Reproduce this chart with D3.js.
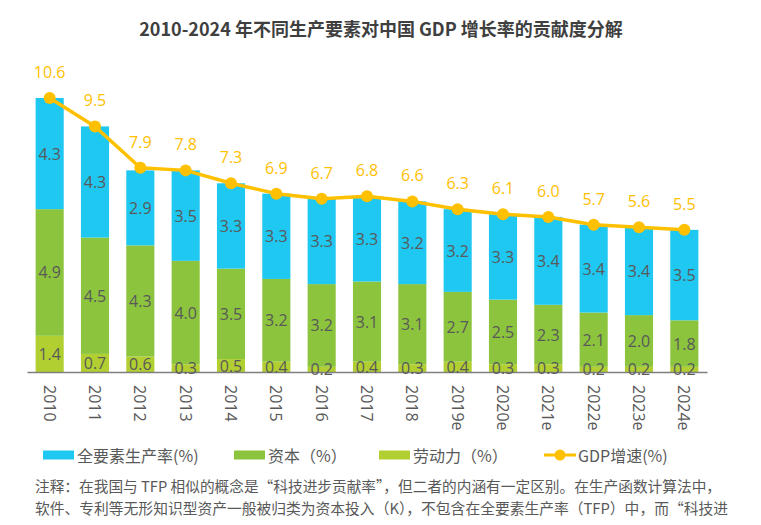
<!DOCTYPE html>
<html>
<head>
<meta charset="utf-8">
<script src="https://cdn.jsdelivr.net/npm/d3@7"></script>
<style>
  body { margin: 0; background: #fff; }
  svg text { font-family: "Open Sans", "Noto Sans CJK SC", sans-serif; }
  .cjk { font-family: "Noto Sans CJK SC", "Open Sans", sans-serif; }
</style>
</head>
<body>
<div id="chart"></div>
<script>
var years = ["2010", "2011", "2012", "2013", "2014", "2015", "2016", "2017", "2018",
    "2019e", "2020e", "2021e", "2022e", "2023e", "2024e"];
var tfp = [4.3, 4.3, 2.9, 3.5, 3.3, 3.3, 3.3, 3.3, 3.2, 3.2, 3.3, 3.4, 3.4, 3.4, 3.5];
var capital = [4.9, 4.5, 4.3, 4.0, 3.5, 3.2, 3.2, 3.1, 3.1, 2.7, 2.5, 2.3, 2.1, 2.0, 1.8];
var labor = [1.4, 0.7, 0.6, 0.3, 0.5, 0.4, 0.2, 0.4, 0.3, 0.4, 0.3, 0.3, 0.2, 0.2, 0.2];
var gdp = [10.6, 9.5, 7.9, 7.8, 7.3, 6.9, 6.7, 6.8, 6.6, 6.3, 6.1, 6.0, 5.7, 5.6, 5.5];

var seriesNames = ["全要素生产率(%)", "资本（%）", "劳动力（%）", "GDP增速(%)"];
var colors = ["#1FC8F1", "#8CC43E", "#B2CF32", "#FFC000"];
var title = "2010-2024 年不同生产要素对中国 GDP 增长率的贡献度分解";
var notes = [
    "注释：在我国与 TFP 相似的概念是“科技进步贡献率”，但二者的内涵有一定区别。在生产函数计算法中，",
    "软件、专利等无形知识型资产一般被归类为资本投入（K），不包含在全要素生产率（TFP）中，而“科技进"
];

function init() {
    var width = 761, height = 525;
    var textColor = "#595959";

    var svg = d3.select("#chart")
        .append("svg")
        .attr("width", width)
        .attr("height", height);

    svg.append("text")
        .attr("class", "cjk")
        .attr("x", 381)
        .attr("y", 36)
        .attr("text-anchor", "middle")
        .attr("font-size", 18)
        .attr("font-weight", "bold")
        .attr("fill", "#3F3F3F")
        .text(title);

    var xScale = d3.scaleBand()
        .domain(years)
        .range([27, 707])
        .paddingInner(0.38)
        .paddingOuter(0.19);

    var yScale = d3.scaleLinear()
        .domain([0, 10.6])
        .range([372, 98]);

    // stacked data: labor at bottom, then capital, then tfp
    var table = years.map(function (y, i) {
        return { year: y, labor: labor[i], capital: capital[i], tfp: tfp[i] };
    });
    var keys = ["labor", "capital", "tfp"];
    var keyColor = { tfp: colors[0], capital: colors[1], labor: colors[2] };
    var stacked = d3.stack().keys(keys)(table);

    var layers = svg.append("g")
        .selectAll("g")
        .data(stacked)
        .enter()
        .append("g")
        .attr("fill", function (d) { return keyColor[d.key]; });

    layers.selectAll("rect")
        .data(function (d) { return d; })
        .enter()
        .append("rect")
        .attr("x", function (d) { return xScale(d.data.year); })
        .attr("width", xScale.bandwidth())
        .attr("y", function (d) { return yScale(d[1]); })
        .attr("height", function (d) { return yScale(d[0]) - yScale(d[1]); });

    // x axis (drawn before the value labels so they sit on top)
    var xAxis = svg.append("g")
        .attr("transform", "translate(0,372)")
        .call(d3.axisBottom(xScale).tickSize(0).tickSizeOuter(0));
    xAxis.select(".domain").attr("stroke", "#7F7F7F").attr("stroke-width", 1.3);
    xAxis.selectAll(".tick text")
        .attr("font-family", "Open Sans, sans-serif")
        .attr("font-size", 16)
        .attr("fill", textColor)
        .attr("text-anchor", "start")
        .attr("dominant-baseline", "central")
        .attr("transform", "translate(0,13) rotate(90)")
        .attr("x", 0)
        .attr("y", 0)
        .attr("dy", null);

    svg.append("g")
        .selectAll("g")
        .data(stacked)
        .enter()
        .append("g")
        .selectAll("text")
        .data(function (d) {
            return d.map(function (p) { p.key = d.key; return p; });
        })
        .enter()
        .append("text")
        .attr("x", function (d) { return xScale(d.data.year) + xScale.bandwidth() / 2; })
        .attr("y", function (d) { return (yScale(d[0]) + yScale(d[1])) / 2; })
        .attr("text-anchor", "middle")
        .attr("dominant-baseline", "central")
        .attr("font-size", 16)
        .attr("fill", textColor)
        .text(function (d) { return d.data[d.key].toFixed(1); });

    // GDP line
    var cx = function (d, i) { return xScale(years[i]) + xScale.bandwidth() / 2; };
    var line = d3.line()
        .x(function (d, i) { return cx(d, i); })
        .y(function (d) { return yScale(d); });

    svg.append("path")
        .datum(gdp)
        .attr("fill", "none")
        .attr("stroke", colors[3])
        .attr("stroke-width", 3.5)
        .attr("stroke-linejoin", "round")
        .attr("d", line);

    svg.append("g")
        .selectAll("circle")
        .data(gdp)
        .enter()
        .append("circle")
        .attr("cx", cx)
        .attr("cy", function (d) { return yScale(d); })
        .attr("r", 6)
        .attr("fill", colors[3]);

    svg.append("g")
        .selectAll("text")
        .data(gdp)
        .enter()
        .append("text")
        .attr("x", cx)
        .attr("y", function (d) { return yScale(d) - 26; })
        .attr("text-anchor", "middle")
        .attr("dominant-baseline", "central")
        .attr("font-size", 16)
        .attr("fill", colors[3])
        .text(function (d) { return d.toFixed(1); });

    // legend
    var legendX = [43, 234, 379, 544];
    var legend = svg.append("g")
        .selectAll("g")
        .data(seriesNames)
        .enter()
        .append("g")
        .attr("transform", function (d, i) { return "translate(" + legendX[i] + ",455)"; });

    legend.each(function (d, i) {
        var g = d3.select(this);
        if (i < 3) {
            g.append("rect")
                .attr("x", 0).attr("y", -4.5)
                .attr("width", 31).attr("height", 9)
                .attr("fill", colors[i]);
        } else {
            g.append("line")
                .attr("x1", 0).attr("x2", 32)
                .attr("stroke", colors[3]).attr("stroke-width", 3);
            g.append("circle")
                .attr("cx", 16).attr("r", 5.5)
                .attr("fill", colors[3]);
        }
        g.append("text")
            .attr("class", "cjk")
            .attr("x", 34)
            .attr("dominant-baseline", "central")
            .attr("font-size", 16)
            .attr("fill", textColor)
            .text(d);
    });

    // notes
    var noteLen = [686, 693];
    svg.append("g")
        .selectAll("text")
        .data(notes)
        .enter()
        .append("text")
        .attr("class", "cjk")
        .attr("x", 35)
        .attr("y", function (d, i) { return 485 + i * 22; })
        .attr("dominant-baseline", "central")
        .attr("font-size", 15)
        .attr("textLength", function (d, i) { return noteLen[i]; })
        .attr("lengthAdjust", "spacingAndGlyphs")
        .attr("fill", textColor)
        .text(function (d) { return d; });
}

window.onload = init;
</script>
</body>
</html>
